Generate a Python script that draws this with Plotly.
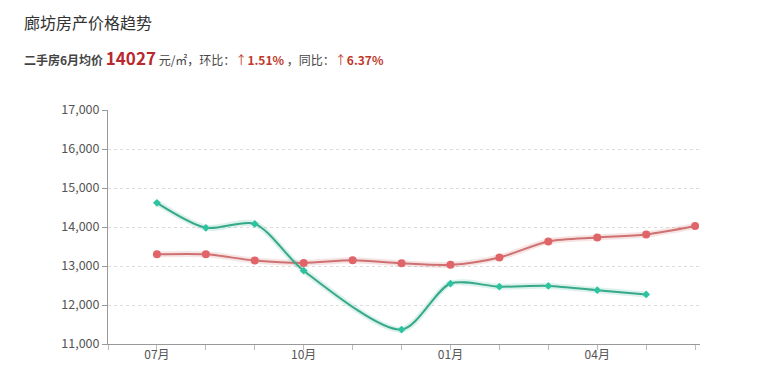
import plotly.graph_objects as go

months = ["07月", "08月", "09月", "10月", "11月", "12月", "01月", "02月", "03月", "04月", "05月", "06月"]
second_hand = [13300, 13300, 13140, 13080, 13150, 13070, 13030, 13220, 13630, 13730, 13810, 14027]
new_house = [14620, 13980, 14080, 12880, None, 11370, 12550, 12470, 12490, 12380, 12270, None]
tick_labels_shown = ["07月", "10月", "01月", "04月"]
y_ticks = [11000, 12000, 13000, 14000, 15000, 16000, 17000]

idx = list(range(len(months)))
shown_idx = [months.index(m) for m in tick_labels_shown]

RED_LINE = "#cf7071"
RED_MARK = "#e06468"
GREEN_LINE = "#36a98a"
GREEN_MARK = "#2cc39e"
FONT = "Noto Sans CJK SC, Noto Sans, sans-serif"

L, T, PW, PH = 100, 102, 592, 234

fig = go.Figure()

# soft shadows under the lines
fig.add_trace(go.Scatter(x=idx, y=second_hand, mode="lines", connectgaps=True,
                         line=dict(color="rgba(200,90,90,0.16)", width=6, shape="spline", smoothing=0.8),
                         hoverinfo="skip", showlegend=False))
fig.add_trace(go.Scatter(x=idx, y=new_house, mode="lines", connectgaps=True,
                         line=dict(color="rgba(40,170,130,0.16)", width=6, shape="spline", smoothing=0.8),
                         hoverinfo="skip", showlegend=False))

fig.add_trace(go.Scatter(x=idx, y=second_hand, mode="lines+markers", connectgaps=True,
                         line=dict(color=RED_LINE, width=2, shape="spline", smoothing=0.8),
                         marker=dict(color=RED_MARK, size=8, symbol="circle"),
                         name="二手房", showlegend=False))
fig.add_trace(go.Scatter(x=idx, y=new_house, mode="lines+markers", connectgaps=True,
                         line=dict(color=GREEN_LINE, width=2, shape="spline", smoothing=0.8),
                         marker=dict(color=GREEN_MARK, size=6, symbol="diamond"),
                         name="新房", showlegend=False))

fig.update_layout(
    width=751, height=384,
    margin=dict(l=L, r=751 - L - PW, t=T, b=384 - T - PH),
    paper_bgcolor="white", plot_bgcolor="white",
    font=dict(family=FONT, color="#666", size=12),
    xaxis=dict(
        range=[-1, 11.1],
        tickmode="array",
        tickvals=shown_idx,
        ticktext=tick_labels_shown,
        showgrid=False, zeroline=False,
        showline=True, linecolor="#999", linewidth=1,
        ticks="", tickfont=dict(size=12, color="#555"),
        minor=dict(tickmode="array", tickvals=[-1] + idx, ticks="outside",
                   ticklen=5, tickcolor="#bbb", showgrid=False),
    ),
    yaxis=dict(
        range=[11000, 17000],
        tickmode="array",
        tickvals=y_ticks,
        tickformat=",",
        showgrid=True, gridcolor="#dcdcdc", griddash="dot", gridwidth=1,
        zeroline=False,
        showline=True, linecolor="#999", linewidth=1,
        ticks="outside", ticklen=5, tickcolor="#999",
        tickfont=dict(size=12.5, color="#555"),
    ),
)

fig.add_annotation(xref="paper", yref="paper", x=(14 - L) / PW, y=1 + (T - 14) / PH,
                   xanchor="left", yanchor="middle", showarrow=False,
                   text="廊坊房产价格趋势",
                   font=dict(size=16, color="#333", family=FONT))

sub = ("<b>二手房6月均价</b> "
       "<span style='font-size:17px;color:#b8282e'><b>14027</b></span> "
       "元/㎡，环比：<span style='color:#c0392b'>↑<b>1.51%</b></span> ，"
       "同比：<span style='color:#c0392b'>↑<b>6.37%</b></span>")
fig.add_annotation(xref="paper", yref="paper", x=(14 - L) / PW, y=1 + (T - 50) / PH,
                   xanchor="left", yanchor="middle", showarrow=False,
                   text=sub, font=dict(size=12, color="#444", family=FONT))

fig.write_html("out.html")
